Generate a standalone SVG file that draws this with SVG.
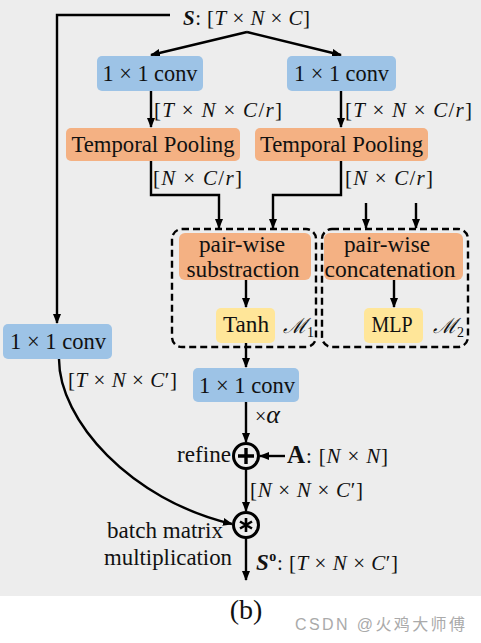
<svg xmlns="http://www.w3.org/2000/svg" width="481" height="643" viewBox="0 0 481 643">
<style>
.t{font-family:"Liberation Serif","DejaVu Serif",serif;fill:#111;}
.lb{font-size:23px;}
.m{font-size:21px;}
.i{font-style:italic;}
.b{font-weight:bold;}
.blue{fill:#9dc3e6;}
.orange{fill:#f4b183;}
.yellow{fill:#ffe699;}
.ln{fill:none;stroke:#000;stroke-width:2.4;}
.dash{fill:none;stroke:#000;stroke-width:2.4;stroke-dasharray:7 4;}
</style>
<defs>
<marker id="ah" markerUnits="userSpaceOnUse" markerWidth="10" markerHeight="8" refX="9" refY="4" orient="auto">
<path d="M0,0 L10,4 L0,8 z" fill="#000"/>
</marker>
</defs>
<rect x="0" y="0" width="481" height="596" fill="#ededed"/>
<rect x="0" y="596" width="481" height="47" fill="#fff"/>

<g id="connectors">
<polyline class="ln" points="170,15 57,15 57,323" marker-end="url(#ah)"/>
<line class="ln" x1="247" y1="32" x2="151" y2="55" marker-end="url(#ah)"/>
<line class="ln" x1="247" y1="32" x2="341" y2="55" marker-end="url(#ah)"/>
<line class="ln" x1="151" y1="91" x2="151" y2="127" marker-end="url(#ah)"/>
<line class="ln" x1="341" y1="91" x2="341" y2="127" marker-end="url(#ah)"/>
<polyline class="ln" points="151,161 151,195 219,195 219,228" marker-end="url(#ah)"/>
<polyline class="ln" points="341,161 341,195 273,195 273,228" marker-end="url(#ah)"/>
<line class="ln" x1="366" y1="203" x2="366" y2="228" marker-end="url(#ah)"/>
<line class="ln" x1="416" y1="203" x2="416" y2="228" marker-end="url(#ah)"/>
<line class="ln" x1="246" y1="280" x2="246" y2="307" marker-end="url(#ah)"/>
<line class="ln" x1="394" y1="280" x2="394" y2="307" marker-end="url(#ah)"/>
<line class="ln" x1="246" y1="343" x2="246" y2="367" marker-end="url(#ah)"/>
<line class="ln" x1="246" y1="402" x2="246" y2="442" marker-end="url(#ah)"/>
<line class="ln" x1="285" y1="456" x2="260" y2="456" marker-end="url(#ah)"/>
<line class="ln" x1="246" y1="469" x2="246" y2="511" marker-end="url(#ah)"/>
<path class="ln" d="M59,359 C59,420 130,500 232,524" marker-end="url(#ah)"/>
<line class="ln" x1="246" y1="538" x2="246" y2="580" marker-end="url(#ah)"/>
</g>

<g id="input">
<text class="t m" x="183" y="25" textLength="127" lengthAdjust="spacing"><tspan class="b i">S</tspan>: [<tspan class="i">T</tspan> × <tspan class="i">N</tspan> × <tspan class="i">C</tspan>]</text>
</g>

<g id="conv-left">
<rect class="blue" x="97" y="56" width="106" height="35" rx="5"/>
<text class="t lb" x="150" y="81" text-anchor="middle" textLength="95" lengthAdjust="spacingAndGlyphs">1 × 1 conv</text>
</g>
<g id="conv-right">
<rect class="blue" x="287" y="56" width="109" height="35" rx="5"/>
<text class="t lb" x="341.5" y="81" text-anchor="middle" textLength="95" lengthAdjust="spacingAndGlyphs">1 × 1 conv</text>
</g>
<g id="label-tncr">
<text class="t m" x="154" y="117" textLength="128" lengthAdjust="spacing">[<tspan class="i">T</tspan> × <tspan class="i">N</tspan> × <tspan class="i">C</tspan>/<tspan class="i">r</tspan>]</text>
<text class="t m" x="345" y="117" textLength="127" lengthAdjust="spacing">[<tspan class="i">T</tspan> × <tspan class="i">N</tspan> × <tspan class="i">C</tspan>/<tspan class="i">r</tspan>]</text>
</g>

<g id="pool-left">
<rect class="orange" x="66" y="128" width="174" height="33" rx="5"/>
<text class="t lb" x="153" y="152" text-anchor="middle" textLength="163" lengthAdjust="spacingAndGlyphs">Temporal Pooling</text>
</g>
<g id="pool-right">
<rect class="orange" x="255" y="128" width="173" height="33" rx="5"/>
<text class="t lb" x="341.5" y="152" text-anchor="middle" textLength="163" lengthAdjust="spacingAndGlyphs">Temporal Pooling</text>
</g>
<g id="label-ncr">
<text class="t m" x="153" y="185" textLength="89" lengthAdjust="spacing">[<tspan class="i">N</tspan> × <tspan class="i">C</tspan>/<tspan class="i">r</tspan>]</text>
<text class="t m" x="345" y="185" textLength="88" lengthAdjust="spacing">[<tspan class="i">N</tspan> × <tspan class="i">C</tspan>/<tspan class="i">r</tspan>]</text>
</g>

<g id="M1">
<rect class="dash" x="172" y="229" width="144" height="118" rx="10"/>
<rect class="orange" x="179" y="233" width="132" height="47" rx="6"/>
<text class="t lb" x="242" y="252" text-anchor="middle" textLength="86" lengthAdjust="spacingAndGlyphs">pair-wise</text>
<text class="t lb" x="243" y="277" text-anchor="middle" textLength="113" lengthAdjust="spacingAndGlyphs">substraction</text>
<rect class="yellow" x="216" y="308" width="59" height="35" rx="5"/>
<text class="t lb" x="246" y="332" text-anchor="middle" textLength="46" lengthAdjust="spacingAndGlyphs">Tanh</text>
<text class="t m i" x="283" y="333">ℳ<tspan font-size="14" dy="4" font-style="normal">1</tspan></text>
</g>

<g id="M2">
<rect class="dash" x="322" y="229" width="146" height="118" rx="10"/>
<rect class="orange" x="324" y="233" width="139" height="47" rx="6"/>
<text class="t lb" x="387" y="252" text-anchor="middle" textLength="86" lengthAdjust="spacingAndGlyphs">pair-wise</text>
<text class="t lb" x="390" y="277" text-anchor="middle" textLength="131" lengthAdjust="spacingAndGlyphs">concatenation</text>
<rect class="yellow" x="364" y="308" width="59" height="35" rx="5"/>
<text class="t lb" x="392" y="332" text-anchor="middle" textLength="41" lengthAdjust="spacingAndGlyphs">MLP</text>
<text class="t m i" x="433" y="333">ℳ<tspan font-size="14" dy="4" font-style="normal">2</tspan></text>
</g>

<g id="conv-side">
<rect class="blue" x="3" y="324" width="109" height="35" rx="5"/>
<text class="t lb" x="58" y="349" text-anchor="middle" textLength="96" lengthAdjust="spacingAndGlyphs">1 × 1 conv</text>
<text class="t m" x="68" y="387" textLength="109" lengthAdjust="spacing">[<tspan class="i">T</tspan> × <tspan class="i">N</tspan> × <tspan class="i">C</tspan>′]</text>
</g>

<g id="conv-bottom">
<rect class="blue" x="193" y="368" width="106" height="34" rx="5"/>
<text class="t lb" x="247" y="393" text-anchor="middle" textLength="96" lengthAdjust="spacingAndGlyphs">1 × 1 conv</text>
<text class="t" x="255" y="423" font-size="20">×<tspan class="i" font-size="26">α</tspan></text>
</g>

<g id="refine">
<circle cx="246" cy="456" r="12.5" fill="none" stroke="#000" stroke-width="3"/>
<path d="M246,448 V464 M238,456 H254" stroke="#000" stroke-width="3.4" fill="none"/>
<text class="t lb" x="231" y="462" text-anchor="end" textLength="54" lengthAdjust="spacingAndGlyphs">refine</text>
<text class="t m" x="287" y="463" textLength="101" lengthAdjust="spacing"><tspan class="b" font-size="25">A</tspan>: [<tspan class="i">N</tspan> × <tspan class="i">N</tspan>]</text>
<text class="t m" x="250" y="497" textLength="113" lengthAdjust="spacing">[<tspan class="i">N</tspan> × <tspan class="i">N</tspan> × <tspan class="i">C</tspan>′]</text>
</g>

<g id="bmm">
<circle cx="246" cy="525" r="12.5" fill="none" stroke="#000" stroke-width="3"/>
<path d="M246,518 V532 M240,521.5 L252,528.5 M240,528.5 L252,521.5" stroke="#000" stroke-width="2.6" fill="none"/>
<text class="t lb" x="165" y="538" text-anchor="middle" textLength="116" lengthAdjust="spacingAndGlyphs">batch matrix</text>
<text class="t lb" x="168" y="565" text-anchor="middle" textLength="128" lengthAdjust="spacingAndGlyphs">multiplication</text>
<text class="t m" x="256" y="570" textLength="142" lengthAdjust="spacing"><tspan class="b i" font-size="23">S</tspan><tspan class="b" font-size="14" dy="-9">o</tspan><tspan dy="9">: [</tspan><tspan class="i">T</tspan> × <tspan class="i">N</tspan> × <tspan class="i">C</tspan>′]</text>
</g>

<g id="caption">
<text class="t" x="246" y="619" text-anchor="middle" font-size="28">(b)</text>
<text x="295" y="630" font-family="'Liberation Sans','Noto Sans CJK SC',sans-serif" font-size="16" fill="#aaaaaa" textLength="170" lengthAdjust="spacing">CSDN @火鸡大师傅</text>
</g>
</svg>
